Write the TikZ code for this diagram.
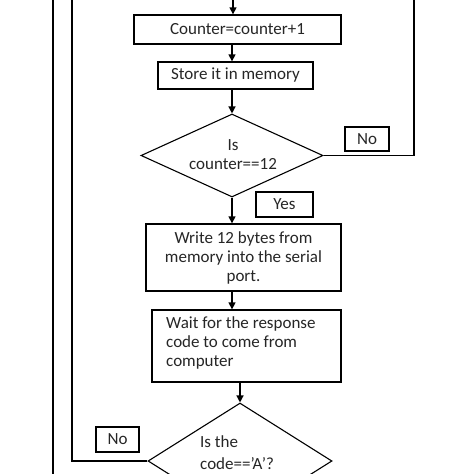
\documentclass[tikz,border=0pt]{standalone}
\usepackage{fontspec}
\setmainfont{Carlito}
\usetikzlibrary{shapes.geometric,arrows.meta}
\begin{document}
\begin{tikzpicture}[x=1pt,y=1pt,
  every node/.style={font=\fontsize{17}{19}\selectfont, text=black!85},
  box/.style={draw, line width=1.3pt, rectangle, inner sep=0pt, align=center},
  dec/.style={draw, line width=1.1pt, diamond, inner sep=0pt, align=center},
  lbl/.style={draw, line width=1.2pt, rectangle, inner sep=0pt},
  arr/.style={line width=1.3pt, -{Triangle[length=7pt,width=7pt]}},
  ln/.style={line width=1.3pt}]
\useasboundingbox (0,0) rectangle (474,-474);
\clip (0,0) rectangle (474,-474);
\fill[white] (0,0) rectangle (474,-474);
\node[box, minimum width=207pt, minimum height=29pt] (c1) at (237.5,-29.5) {Counter=counter+1};
\node[box, minimum width=155pt, minimum height=27pt] (s1) at (235.5,-75.5) {Store it in memory};
\node[dec, minimum width=182pt, minimum height=83pt] (d1) at (232,-155.5) {};
\node[align=center, inner sep=0pt] (d1text) at (233,-154.5) {Is\\counter==12};
\node[lbl, minimum width=44pt, minimum height=24pt] (no1) at (367,-139) {No};
\node[lbl, minimum width=57pt, minimum height=25pt] (yes) at (284.5,-204.5) {Yes};
\node[box, minimum width=195pt, minimum height=67pt] (w1) at (243.5,-257.5) {Write 12 bytes from\\memory into the serial\\port.};
\node[box, minimum width=189pt, minimum height=72pt] (wt) at (246.5,-346) {};
\node[anchor=north west, align=left, inner sep=0pt] (wttext) at (166,-316) {Wait for the response\\code to come from\\computer};
\node[dec, minimum width=184pt, minimum height=116pt] (d2) at (240,-461) {};
\node[anchor=north west, align=left, inner sep=0pt] (d2text) at (200,-435) {Is the\\[3pt]code==’A’?};
\node[lbl, minimum width=43pt, minimum height=25pt] (no2) at (117.5,-439.5) {No};
\coordinate (top) at (233,0);
\coordinate (L1t) at (53,0);
\coordinate (L1b) at (53,-474);
\coordinate (L2t) at (72,0);
\coordinate (Rt) at (414,0);
\draw[arr] (top) -- (c1.north -| top);
\draw[arr] (c1.south -| d1.north) -- (s1.north -| d1.north);
\draw[arr] (s1.south -| d1.north) -- (d1.north);
\draw[arr] (d1.south) -- (w1.north -| d1.south);
\draw[arr] (w1.south -| d1.south) -- (wt.north -| d1.south);
\draw[arr] (wt.south -| d2.north) -- (d2.north);
\draw[ln] (L1t) -- (L1b);
\draw[ln] (L2t) -- (L2t |- d2.west) -- (d2.west);
\draw[ln] (Rt) -- (Rt |- d1.east) -- (d1.east);
\end{tikzpicture}
\end{document}
